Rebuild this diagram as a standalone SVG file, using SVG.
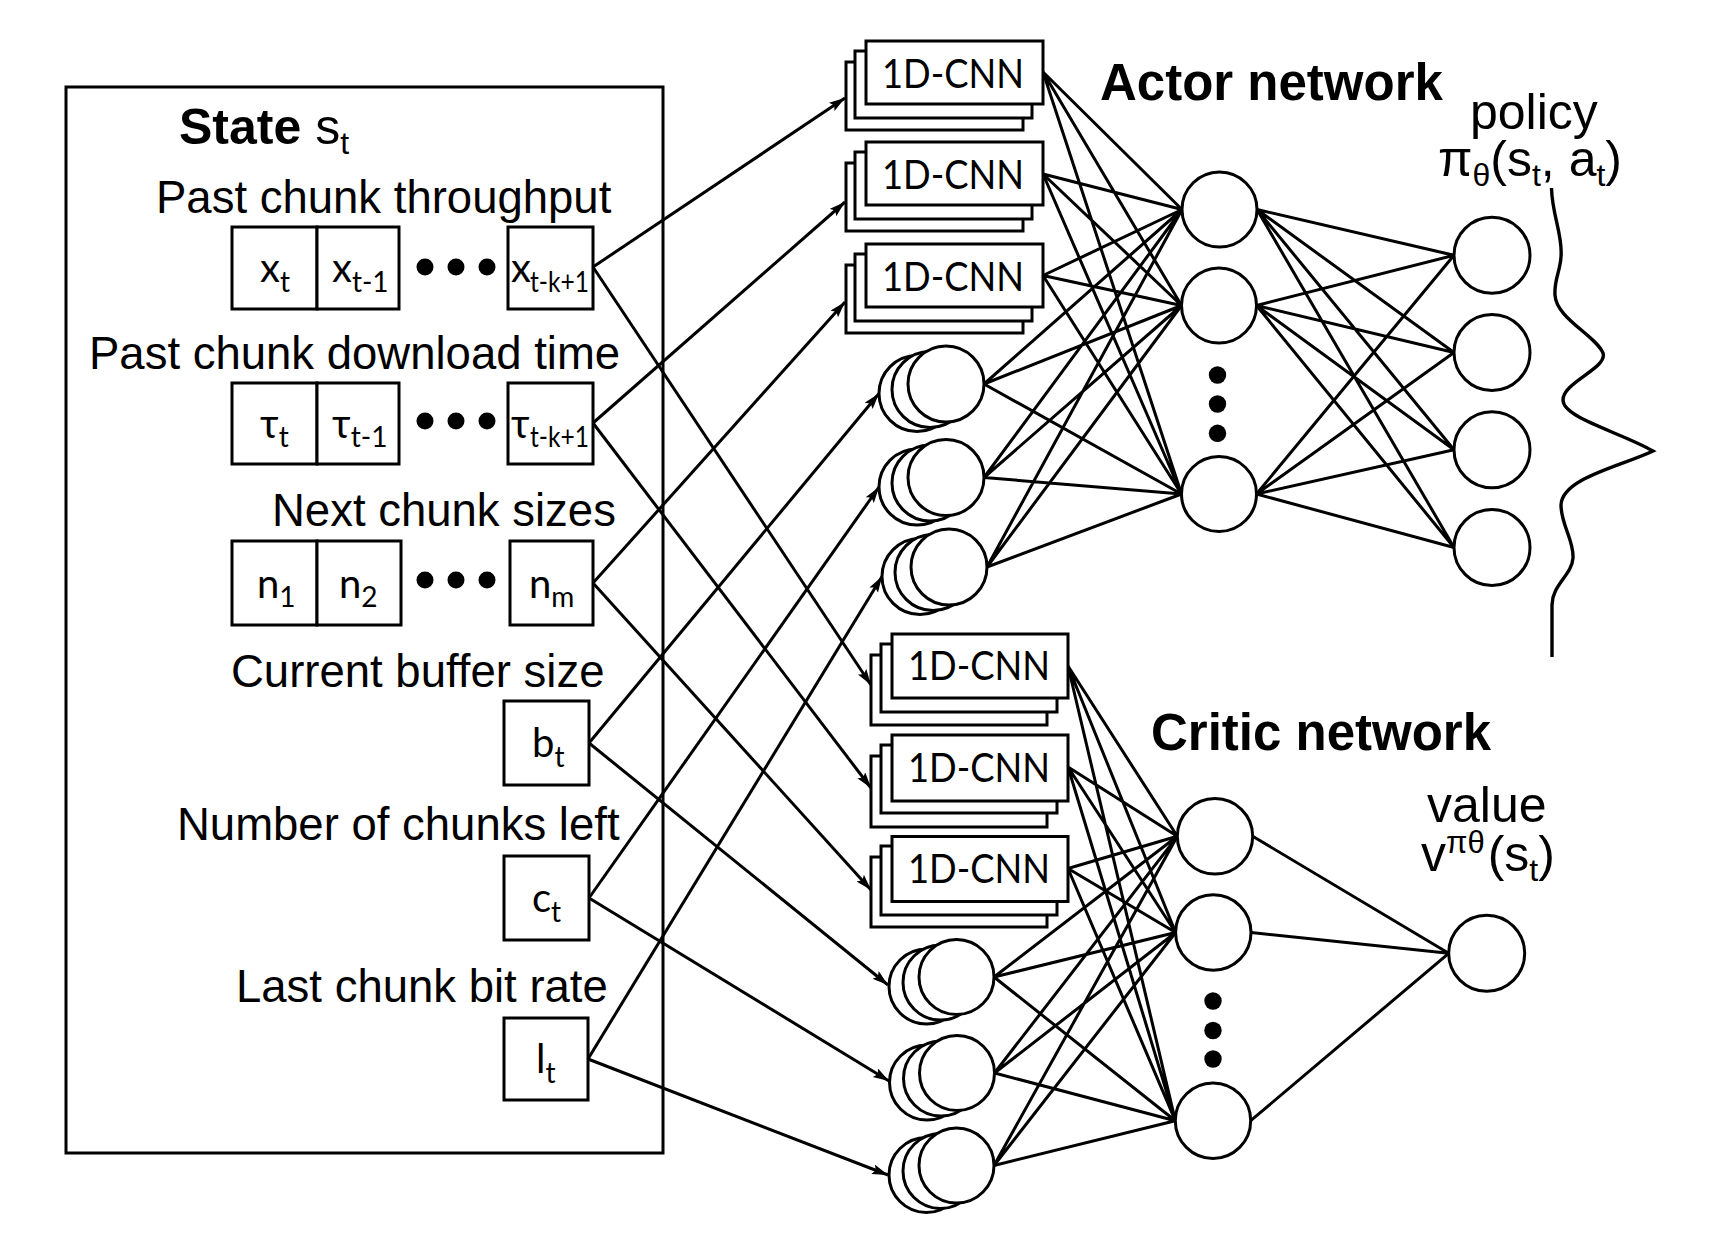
<svg xmlns="http://www.w3.org/2000/svg" width="1729" height="1234" viewBox="0 0 1729 1234">
<defs>
<style>
.frame{fill:none;stroke:#000;stroke-width:3}
.box{fill:#fff;stroke:#000;stroke-width:3}
.neu{fill:#fff;stroke:#000;stroke-width:3}
.edge{fill:none;stroke:#000;stroke-width:3}
.wave{fill:none;stroke:#000;stroke-width:3.4}
.arr{fill:none;stroke:#000;stroke-width:3;marker-end:url(#ah)}
.lbl{font-family:'Liberation Sans',Arial,sans-serif;font-size:45.5px;fill:#000}
.big{font-family:'Liberation Sans',Arial,sans-serif;font-size:50px;fill:#000}
.bold{font-family:'Liberation Sans',Arial,sans-serif;font-size:51px;font-weight:bold;fill:#000}
.var{font-family:Lato,'Noto Sans',sans-serif;font-size:40px;fill:#000}
.sub{font-size:28px}
.cnn{font-family:Lato,'Noto Sans',sans-serif;font-size:40px;fill:#000}
.dot{fill:#000}
</style>
<marker id="ah" markerUnits="userSpaceOnUse" markerWidth="18" markerHeight="12" refX="16" refY="5" orient="auto">
<path d="M0,0 L16,5 L0,10 L3,5 z" fill="#000"/>
</marker>
</defs>
<rect width="1729" height="1234" fill="#fff"/>

<g id="state">
<rect class="frame" x="66" y="87" width="597" height="1066"/>
<text class="big" x="179" y="144"><tspan font-weight="bold">State</tspan> s<tspan font-size="32" dy="10">t</tspan></text>
</g>

<g id="throughput">
<text class="lbl" x="156" y="213">Past chunk throughput</text>
<rect class="box" x="232" y="227" width="85" height="82"/>
<rect class="box" x="317" y="227" width="82" height="82"/>
<rect class="box" x="508" y="227" width="85" height="82"/>
<circle class="dot" cx="425" cy="267" r="8.5"/><circle class="dot" cx="456" cy="267" r="8.5"/><circle class="dot" cx="487" cy="267" r="8.5"/>
<text class="var" x="260" y="282">x<tspan class="sub" dy="10">t</tspan></text>
<text class="var" x="332" y="282">x<tspan class="sub" dy="10">t-1</tspan></text>
<text class="var" x="511" y="282">x</text>
<text class="var sub" x="530" y="292" textLength="59" lengthAdjust="spacingAndGlyphs">t-k+1</text>
</g>

<g id="downloadtime">
<text class="lbl" x="89" y="369">Past chunk download time</text>
<rect class="box" x="232" y="383" width="85" height="81"/>
<rect class="box" x="317" y="383" width="82" height="81"/>
<rect class="box" x="508" y="383" width="85" height="81"/>
<circle class="dot" cx="425" cy="421" r="8.5"/><circle class="dot" cx="456" cy="421" r="8.5"/><circle class="dot" cx="487" cy="421" r="8.5"/>
<text class="var" x="260" y="438">τ<tspan class="sub" dy="9">t</tspan></text>
<text class="var" x="332" y="438">τ<tspan class="sub" dy="9">t-1</tspan></text>
<text class="var" x="511" y="438">τ</text>
<text class="var sub" x="530" y="447" textLength="59" lengthAdjust="spacingAndGlyphs">t-k+1</text>
</g>

<g id="chunksizes">
<text class="lbl" x="272" y="526">Next chunk sizes</text>
<rect class="box" x="232" y="541" width="85" height="84"/>
<rect class="box" x="317" y="541" width="84" height="84"/>
<rect class="box" x="510" y="541" width="83" height="84"/>
<circle class="dot" cx="425" cy="580" r="8.5"/><circle class="dot" cx="456" cy="580" r="8.5"/><circle class="dot" cx="487" cy="580" r="8.5"/>
<text class="var" x="257" y="598">n<tspan class="sub" dy="9">1</tspan></text>
<text class="var" x="339" y="598">n<tspan class="sub" dy="9">2</tspan></text>
<text class="var" x="529" y="598">n<tspan class="sub" dy="9">m</tspan></text>
</g>

<g id="buffer">
<text class="lbl" x="231" y="687">Current buffer size</text>
<rect class="box" x="504" y="701" width="85" height="84"/>
<text class="var" x="532" y="757">b<tspan class="sub" dy="10">t</tspan></text>
</g>

<g id="chunksleft">
<text class="lbl" x="177" y="840">Number of chunks left</text>
<rect class="box" x="504" y="856" width="85" height="84"/>
<text class="var" x="532" y="912">c<tspan class="sub" dy="10">t</tspan></text>
</g>

<g id="bitrate">
<text class="lbl" x="236" y="1002">Last chunk bit rate</text>
<rect class="box" x="504" y="1018" width="84" height="82"/>
<text class="var" x="536" y="1073">l<tspan class="sub" dy="10">t</tspan></text>
</g>

<g id="connectors">
<line class="arr" x1="593" y1="267" x2="845" y2="98"/>
<line class="arr" x1="593" y1="267" x2="871" y2="685"/>
<line class="arr" x1="593" y1="423" x2="845" y2="202"/>
<line class="arr" x1="593" y1="423" x2="871" y2="788"/>
<line class="arr" x1="593" y1="583" x2="845" y2="302"/>
<line class="arr" x1="593" y1="583" x2="871" y2="890"/>
<line class="arr" x1="589" y1="743" x2="879" y2="393.5"/>
<line class="arr" x1="589" y1="743" x2="888" y2="985"/>
<line class="arr" x1="589" y1="898" x2="879" y2="487"/>
<line class="arr" x1="589" y1="898" x2="889" y2="1081"/>
<line class="arr" x1="588" y1="1059" x2="882" y2="576.5"/>
<line class="arr" x1="588" y1="1059" x2="888" y2="1175"/>
<path class="edge" d="M1043,72 L1182,209.5 M1043,72 L1181.5,305.5 M1043,72 L1181.5,494
M1043,174 L1182,209.5 M1043,174 L1181.5,305.5 M1043,174 L1181.5,494
M1043,275.5 L1182,209.5 M1043,275.5 L1181.5,305.5 M1043,275.5 L1181.5,494
M984,384 L1182,209.5 M984,384 L1181.5,305.5 M984,384 L1181.5,494
M984,477.5 L1182,209.5 M984,477.5 L1181.5,305.5 M984,477.5 L1181.5,494
M987,567 L1182,209.5 M987,567 L1181.5,305.5 M987,567 L1181.5,494"/>
<path class="edge" d="M1257,209.5 L1454,255.3 M1257,209.5 L1454,352.5 M1257,209.5 L1454,449.7 M1257,209.5 L1454,547.5
M1256.5,305.5 L1454,255.3 M1256.5,305.5 L1454,352.5 M1256.5,305.5 L1454,449.7 M1256.5,305.5 L1454,547.5
M1256.5,494 L1454,255.3 M1256.5,494 L1454,352.5 M1256.5,494 L1454,449.7 M1256.5,494 L1454,547.5"/>
<path class="edge" d="M1068,666 L1177.3,836.3 M1068,666 L1175.6,932.5 M1068,666 L1175.3,1120.7
M1068,767 L1177.3,836.3 M1068,767 L1175.6,932.5 M1068,767 L1175.3,1120.7
M1068,868.5 L1177.3,836.3 M1068,868.5 L1175.6,932.5 M1068,868.5 L1175.3,1120.7
M994,977 L1177.3,836.3 M994,977 L1175.6,932.5 M994,977 L1175.3,1120.7
M994.5,1073 L1177.3,836.3 M994.5,1073 L1175.6,932.5 M994.5,1073 L1175.3,1120.7
M994,1165.5 L1177.3,836.3 M994,1165.5 L1175.6,932.5 M994,1165.5 L1175.3,1120.7"/>
<path class="edge" d="M1252.7,836.3 L1448.7,953.3 M1251,932.5 L1448.7,953.3 M1250.7,1120.7 L1448.7,953.3"/>
</g>

<g id="actor-cnn-1">
<rect class="box" x="846" y="62" width="177" height="68"/>
<rect class="box" x="855" y="51" width="177" height="67"/>
<rect class="box" x="866" y="41" width="177" height="63"/>
<text class="cnn" x="882" y="87.5" textLength="142" lengthAdjust="spacingAndGlyphs">1D-CNN</text>
</g>
<g id="actor-cnn-2">
<rect class="box" x="846" y="163" width="177" height="68"/>
<rect class="box" x="855" y="152" width="177" height="67"/>
<rect class="box" x="866" y="142" width="177" height="63"/>
<text class="cnn" x="882" y="188.5" textLength="142" lengthAdjust="spacingAndGlyphs">1D-CNN</text>
</g>
<g id="actor-cnn-3">
<rect class="box" x="846" y="265" width="177" height="68"/>
<rect class="box" x="855" y="254" width="177" height="67"/>
<rect class="box" x="866" y="244" width="177" height="63"/>
<text class="cnn" x="882" y="290.5" textLength="142" lengthAdjust="spacingAndGlyphs">1D-CNN</text>
</g>

<g id="actor-fc-1">
<circle class="neu" cx="917" cy="393.5" r="38"/><circle class="neu" cx="930" cy="389.5" r="38"/><circle class="neu" cx="946" cy="384" r="38"/>
</g>
<g id="actor-fc-2">
<circle class="neu" cx="917" cy="487" r="38"/><circle class="neu" cx="930" cy="483" r="38"/><circle class="neu" cx="946" cy="477.5" r="38"/>
</g>
<g id="actor-fc-3">
<circle class="neu" cx="920" cy="576.5" r="38"/><circle class="neu" cx="933" cy="572.5" r="38"/><circle class="neu" cx="949" cy="567" r="38"/>
</g>

<g id="actor-hidden">
<circle class="neu" cx="1219.5" cy="209.5" r="37.5"/>
<circle class="neu" cx="1219" cy="305.5" r="37.5"/>
<circle class="neu" cx="1219" cy="494" r="37.5"/>
<circle class="dot" cx="1217.5" cy="375" r="8.7"/><circle class="dot" cx="1217.5" cy="404" r="8.7"/><circle class="dot" cx="1217.5" cy="433.3" r="8.7"/>
</g>

<g id="actor-output">
<circle class="neu" cx="1492" cy="255.3" r="38"/>
<circle class="neu" cx="1492" cy="352.5" r="38"/>
<circle class="neu" cx="1492" cy="449.7" r="38"/>
<circle class="neu" cx="1492" cy="547.5" r="38"/>
</g>

<g id="actor-label">
<text class="bold" x="1100" y="100">Actor network</text>
</g>

<g id="policy">
<text class="big" x="1470" y="129">policy</text>
<text class="big" x="1438" y="176">π<tspan font-size="32" dy="10">θ</tspan><tspan dy="-10">(s</tspan><tspan font-size="32" dy="10">t</tspan><tspan dy="-10">, a</tspan><tspan font-size="32" dy="10">t</tspan><tspan dy="-10">)</tspan></text>
<path class="wave" d="M1551.5,188 C1552,215 1563,235 1561,257 C1560,272 1554,280 1555,295 C1556,318 1595,335 1603,353 C1608,368 1563,382 1563,400 C1563,418 1620,432 1653,451 C1622,466 1562,478 1561,505 C1561,525 1574,540 1573,558 C1572,575 1552,585 1552,605 L1552,657"/>
</g>

<g id="critic-cnn-1">
<rect class="box" x="871" y="655" width="176" height="70"/>
<rect class="box" x="881" y="644" width="176" height="68"/>
<rect class="box" x="892" y="634" width="176" height="64"/>
<text class="cnn" x="908" y="680" textLength="142" lengthAdjust="spacingAndGlyphs">1D-CNN</text>
</g>
<g id="critic-cnn-2">
<rect class="box" x="871" y="756" width="176" height="71"/>
<rect class="box" x="881" y="745" width="176" height="68"/>
<rect class="box" x="892" y="735" width="176" height="66"/>
<text class="cnn" x="908" y="782" textLength="142" lengthAdjust="spacingAndGlyphs">1D-CNN</text>
</g>
<g id="critic-cnn-3">
<rect class="box" x="871" y="857" width="176" height="70"/>
<rect class="box" x="881" y="846" width="176" height="69"/>
<rect class="box" x="892" y="836.5" width="176" height="65"/>
<text class="cnn" x="908" y="883" textLength="142" lengthAdjust="spacingAndGlyphs">1D-CNN</text>
</g>

<g id="critic-fc-1">
<circle class="neu" cx="926.5" cy="986.5" r="37.5"/><circle class="neu" cx="940.5" cy="982.5" r="37.5"/><circle class="neu" cx="956.5" cy="977" r="37.5"/>
</g>
<g id="critic-fc-2">
<circle class="neu" cx="927" cy="1082.5" r="37.5"/><circle class="neu" cx="941" cy="1078.5" r="37.5"/><circle class="neu" cx="957" cy="1073" r="37.5"/>
</g>
<g id="critic-fc-3">
<circle class="neu" cx="926.5" cy="1175" r="37.5"/><circle class="neu" cx="940.5" cy="1171" r="37.5"/><circle class="neu" cx="956.5" cy="1165.5" r="37.5"/>
</g>

<g id="critic-hidden">
<circle class="neu" cx="1215" cy="836.3" r="37.7"/>
<circle class="neu" cx="1213.3" cy="932.5" r="37.7"/>
<circle class="neu" cx="1213" cy="1120.7" r="37.7"/>
<circle class="dot" cx="1213" cy="1001" r="8.7"/><circle class="dot" cx="1213" cy="1030.5" r="8.7"/><circle class="dot" cx="1213" cy="1059" r="8.7"/>
</g>

<g id="critic-output">
<circle class="neu" cx="1486.7" cy="953.3" r="38"/>
</g>

<g id="critic-label">
<text class="bold" x="1151" y="750">Critic network</text>
</g>

<g id="value">
<text class="big" x="1427" y="822">value</text>
<text class="big" x="1421" y="871">v<tspan font-size="31" dy="-18">πθ</tspan><tspan dy="18" dx="3">(s</tspan><tspan font-size="32" dy="10">t</tspan><tspan dy="-10">)</tspan></text>
</g>
</svg>
